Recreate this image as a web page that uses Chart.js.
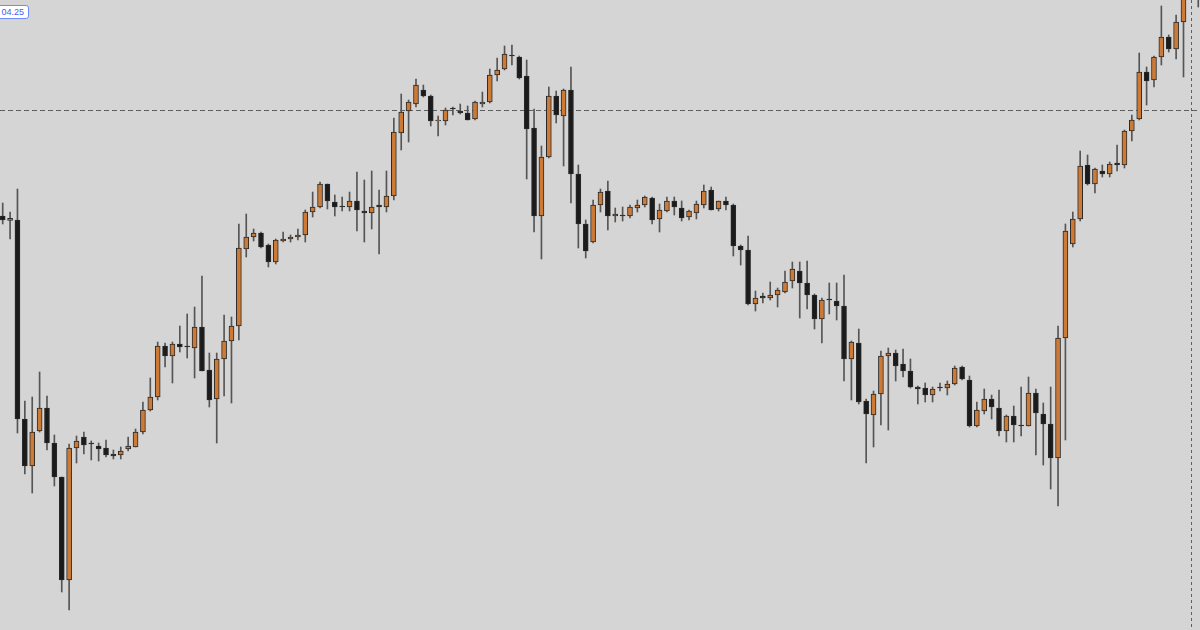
<!DOCTYPE html>
<html>
<head>
<meta charset="utf-8">
<script src="https://cdn.jsdelivr.net/npm/chart.js@4.4.1/dist/chart.umd.min.js"></script>
<style>
  body { margin: 0; background: #d5d5d5; }
  #wrap { position: relative; width: 1200px; height: 630px; overflow: hidden; }
  #chart { display: block; }
  #tag {
    position: absolute; left: -8px; top: 5px; width: 37px; height: 14px;
    box-sizing: border-box; border: 1px solid #6f8af5; border-radius: 3px;
    background: #fff; color: #3c5ef0; font: 9px "Liberation Sans", Arial, sans-serif;
    line-height: 12px; text-align: right; padding-right: 4px;
  }
</style>
</head>
<body>
<div id="wrap">
  <canvas id="chart" width="1200" height="630"></canvas>
  <div id="tag">04.25</div>
</div>
<script>
// candle prices, one entry per bar, left to right
const opens = [
  2318.4, 2317.96, 2318.0, 2298.1, 2293.4, 2296.9, 2299.2, 2295.7, 2292.3, 2282.0,
  2295.2, 2296.3, 2295.6, 2295.4, 2295.2, 2294.56, 2294.5, 2295.1, 2295.3, 2296.8,
  2299.0, 2300.3, 2305.4, 2304.4, 2305.6, 2305.3, 2305.2, 2307.3, 2303.0, 2300.1,
  2304.1, 2305.9, 2307.4, 2315.1, 2316.3, 2316.7, 2315.5, 2313.8, 2315.9, 2316.1,
  2316.3, 2316.5, 2318.8, 2319.3, 2321.6, 2319.8, 2319.3, 2319.3, 2319.9, 2318.9,
  2318.7, 2319.5, 2319.3, 2320.4, 2326.7, 2328.9, 2329.6, 2331.0, 2330.4, 2327.9,
  2327.9, 2329.2, 2328.9, 2328.7, 2328.1, 2329.6, 2329.8, 2332.5, 2333.1, 2334.4,
  2334.3, 2332.4, 2327.2, 2318.4, 2324.3, 2330.4, 2328.4, 2331.0, 2322.6, 2317.6,
  2315.8, 2319.5, 2320.9, 2318.4, 2318.4, 2318.4, 2319.2, 2319.5, 2320.2, 2318.1,
  2318.9, 2319.9, 2319.2, 2318.3, 2318.7, 2319.5, 2321.0, 2319.1, 2319.9, 2319.5,
  2315.4, 2315.0, 2309.6, 2310.4, 2310.2, 2310.5, 2310.8, 2311.9, 2312.9, 2311.7,
  2310.5, 2308.1, 2310.0, 2309.9, 2309.4, 2304.1, 2305.7, 2299.9, 2298.5, 2300.6,
  2304.4, 2304.7, 2303.6, 2302.9, 2301.3, 2301.2, 2300.5, 2301.2, 2301.2, 2301.6,
  2303.3, 2302.0, 2297.4, 2298.9, 2300.1, 2299.2, 2296.9, 2298.4, 2297.5, 2297.4,
  2300.7, 2298.6, 2297.6, 2294.2, 2306.2, 2315.6, 2318.1, 2323.5, 2321.6, 2322.9,
  2322.6, 2323.7, 2323.5, 2326.9, 2328.1, 2332.8, 2332.0, 2334.3, 2336.3, 2335.1,
  2337.8, 2340.5, 2341.0
];
const highs = [
  2319.7, 2318.8, 2321.1, 2299.9, 2300.3, 2302.8, 2300.4, 2296.5, 2292.3, 2295.6,
  2296.4, 2296.8, 2295.9, 2295.7, 2296.0, 2295.0, 2295.3, 2296.3, 2297.1, 2299.8,
  2302.2, 2305.8, 2305.7, 2305.8, 2307.4, 2308.6, 2309.3, 2312.4, 2304.7, 2304.7,
  2308.5, 2308.3, 2317.6, 2318.6, 2317.1, 2316.8, 2315.6, 2316.1, 2316.8, 2316.5,
  2317.1, 2319.0, 2320.8, 2321.8, 2321.6, 2320.5, 2320.3, 2320.8, 2322.8, 2322.0,
  2322.9, 2321.0, 2322.9, 2328.2, 2330.6, 2330.0, 2332.1, 2331.5, 2330.5, 2328.4,
  2329.2, 2329.3, 2329.6, 2329.4, 2329.9, 2330.8, 2333.1, 2334.2, 2335.4, 2335.5,
  2334.4, 2334.0, 2329.1, 2325.4, 2331.3, 2330.9, 2331.1, 2333.3, 2323.5, 2318.0,
  2320.0, 2321.1, 2321.9, 2319.2, 2319.3, 2319.5, 2320.0, 2320.4, 2320.3, 2319.6,
  2320.3, 2320.3, 2319.9, 2319.0, 2319.9, 2321.5, 2321.3, 2319.9, 2320.3, 2319.6,
  2315.5, 2316.4, 2310.9, 2310.7, 2311.8, 2311.2, 2312.9, 2313.8, 2313.8, 2313.9,
  2310.6, 2310.2, 2311.7, 2311.7, 2312.5, 2305.9, 2307.1, 2300.1, 2300.9, 2304.9,
  2305.2, 2305.0, 2305.1, 2304.1, 2301.4, 2301.7, 2301.3, 2301.7, 2301.9, 2303.4,
  2303.4, 2302.4, 2299.8, 2301.1, 2300.5, 2301.0, 2298.5, 2299.4, 2301.3, 2302.3,
  2301.1, 2299.7, 2301.3, 2307.4, 2317.6, 2318.8, 2324.9, 2324.5, 2323.2, 2323.5,
  2323.8, 2325.5, 2327.0, 2328.5, 2334.7, 2333.3, 2334.4, 2339.4, 2336.5, 2338.5,
  2341.0, 2341.8, 2342.0
];
const lows = [
  2317.6, 2316.1, 2296.7, 2292.6, 2290.7, 2296.8, 2295.0, 2291.4, 2280.8, 2279.0,
  2293.7, 2294.6, 2294.0, 2293.9, 2294.3, 2294.1, 2294.1, 2294.9, 2295.3, 2296.6,
  2298.9, 2300.0, 2303.3, 2301.7, 2304.8, 2304.2, 2302.2, 2302.9, 2299.3, 2295.7,
  2300.4, 2299.7, 2306.0, 2314.3, 2315.9, 2315.2, 2313.3, 2313.6, 2315.8, 2315.8,
  2316.0, 2315.8, 2318.3, 2319.2, 2319.1, 2318.4, 2318.9, 2318.9, 2316.9, 2315.8,
  2317.1, 2314.6, 2318.8, 2320.0, 2325.0, 2325.8, 2329.3, 2330.3, 2327.4, 2326.4,
  2327.5, 2328.5, 2328.6, 2328.0, 2328.0, 2329.3, 2329.7, 2331.9, 2333.0, 2333.5,
  2332.1, 2322.1, 2316.8, 2314.1, 2324.2, 2327.7, 2323.4, 2319.7, 2315.2, 2314.2,
  2315.7, 2318.8, 2317.0, 2317.8, 2317.9, 2318.2, 2318.8, 2319.3, 2317.6, 2316.8,
  2318.8, 2318.5, 2317.9, 2318.0, 2318.1, 2319.2, 2319.0, 2318.9, 2319.0, 2314.4,
  2313.5, 2309.5, 2308.9, 2309.7, 2310.0, 2309.3, 2310.7, 2311.2, 2308.2, 2309.1,
  2307.1, 2305.7, 2308.6, 2308.0, 2301.9, 2300.0, 2299.6, 2293.7, 2295.3, 2297.5,
  2297.0, 2301.9, 2302.3, 2301.2, 2299.6, 2299.8, 2299.8, 2300.9, 2300.5, 2301.5,
  2302.0, 2297.3, 2297.3, 2298.6, 2298.1, 2296.4, 2295.8, 2295.8, 2296.4, 2297.4,
  2294.5, 2293.5, 2291.1, 2289.4, 2296.0, 2315.3, 2317.9, 2321.5, 2320.7, 2322.3,
  2322.3, 2322.9, 2323.2, 2325.9, 2328.0, 2329.5, 2331.3, 2333.5, 2334.8, 2334.1,
  2332.3, 2340.2, 2339.3
];
const closes = [
  2318.0, 2318.16, 2298.1, 2293.4, 2296.8, 2299.2, 2295.7, 2292.3, 2282.0, 2295.2,
  2295.9, 2295.5, 2295.6, 2295.1, 2294.5, 2294.4, 2294.9, 2295.4, 2296.8, 2299.0,
  2300.3, 2305.4, 2304.4, 2305.6, 2305.3, 2305.3, 2307.3, 2302.9, 2300.0, 2304.1,
  2305.9, 2307.4, 2315.2, 2316.3, 2316.7, 2315.3, 2313.8, 2316.0, 2316.1, 2316.3,
  2316.5, 2318.8, 2319.3, 2321.6, 2319.9, 2319.3, 2319.3, 2319.9, 2319.0, 2318.7,
  2319.3, 2319.3, 2320.4, 2326.8, 2328.8, 2329.8, 2331.5, 2330.4, 2327.9, 2328.0,
  2329.0, 2329.1, 2328.7, 2328.0, 2329.8, 2329.8, 2332.5, 2333.0, 2334.6, 2334.4,
  2332.2, 2327.1, 2318.4, 2324.3, 2330.4, 2328.5, 2331.0, 2322.6, 2317.6, 2314.9,
  2319.5, 2320.8, 2318.4, 2318.6, 2318.4, 2319.3, 2319.5, 2320.3, 2318.0, 2319.0,
  2319.9, 2319.3, 2318.2, 2318.9, 2319.6, 2320.9, 2319.0, 2319.9, 2319.5, 2315.4,
  2315.0, 2309.6, 2310.2, 2310.2, 2310.5, 2311.0, 2311.8, 2313.1, 2311.7, 2310.5,
  2308.1, 2310.0, 2310.0, 2309.4, 2304.1, 2305.8, 2299.8, 2298.6, 2300.6, 2304.4,
  2304.7, 2303.4, 2302.9, 2301.3, 2301.1, 2300.5, 2301.1, 2301.2, 2301.6, 2303.2,
  2302.1, 2297.4, 2299.0, 2300.1, 2299.3, 2296.9, 2298.4, 2297.5, 2297.4, 2300.7,
  2298.7, 2297.6, 2294.2, 2306.2, 2316.9, 2318.1, 2323.4, 2321.6, 2323.1, 2322.6,
  2323.6, 2323.5, 2326.9, 2328.0, 2332.8, 2331.9, 2334.3, 2336.3, 2335.1, 2337.8,
  2340.4, 2341.2, 2341.5
];

const priceLine = 2329.0;   // horizontal dashed level
const markerBar = 161;      // vertical dashed marker

const UP = '#cc7a36';
const DOWN = '#1b1b1b';

function buildCandles() {
  const bodies = [];
  const wicks = [];
  const colors = [];
  for (let i = 0; i < opens.length; i++) {
    bodies.push({ x: i, y: [opens[i], closes[i]] });
    wicks.push({ x: i, y: [lows[i], highs[i]] });
    colors.push(closes[i] > opens[i] ? UP : DOWN);
  }
  return { bodies, wicks, colors };
}

const dashedLines = {
  id: 'dashedLines',
  beforeDatasetsDraw(chart) {
    const { ctx, chartArea, scales } = chart;
    const y = Math.round(scales.y.getPixelForValue(priceLine)) + 0.5;
    const x = Math.round(scales.x.getPixelForValue(markerBar)) + 0.5;
    ctx.save();
    ctx.strokeStyle = '#5e5e5e';
    ctx.lineWidth = 1;
    ctx.setLineDash([5, 3]);
    ctx.beginPath();
    ctx.moveTo(chartArea.left, y);
    ctx.lineTo(chartArea.right, y);
    ctx.stroke();
    ctx.setLineDash([3, 3]);
    ctx.beginPath();
    ctx.moveTo(x, chartArea.top);
    ctx.lineTo(x, chartArea.bottom);
    ctx.stroke();
    ctx.restore();
  }
};

const c = buildCandles();
const chart = new Chart(document.getElementById('chart').getContext('2d'), {
  type: 'bar',
  data: {
    datasets: [
      {
        data: c.bodies,
        backgroundColor: c.colors,
        borderColor: '#2a2a2a',
        borderWidth: 1,
        borderSkipped: false,
        barThickness: 5,
        minBarLength: 1,
        grouped: false,
        order: 0
      },
      {
        data: c.wicks,
        backgroundColor: '#555555',
        borderWidth: 0,
        barThickness: 1,
        grouped: false,
        order: 1
      }
    ]
  },
  options: {
    responsive: false,
    animation: false,
    devicePixelRatio: 1,
    layout: { padding: 0 },
    plugins: {
      legend: { display: false },
      tooltip: { enabled: false }
    },
    scales: {
      x: { type: 'linear', display: false, offset: false, grace: 0, min: -0.366, max: 162.236 },
      y: { display: false, min: 2277, max: 2340 }
    }
  },
  plugins: [dashedLines]
});
</script>
</body>
</html>
